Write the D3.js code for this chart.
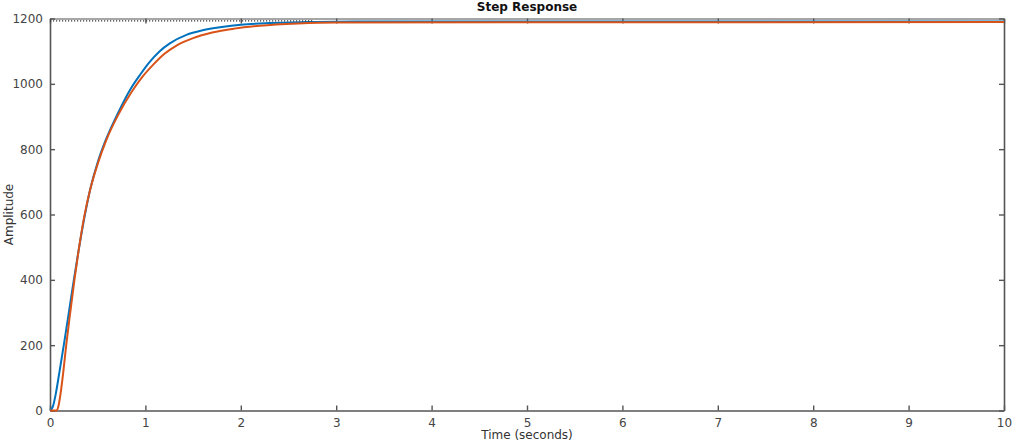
<!DOCTYPE html>
<html><head><meta charset="utf-8">
<script src="https://cdn.jsdelivr.net/npm/d3@7"></script>
<style>html,body{margin:0;padding:0;background:#fff;}svg{display:block;}</style>
</head><body>
<svg id="chart" width="1014" height="442"></svg>
<script>
const title = "Step Response";
const xLabel = "Time (seconds)";
const yLabel = "Amplitude";
const xTicks = [0,1,2,3,4,5,6,7,8,9,10];
const yTicks = [0,200,400,600,800,1000,1200];

const blueT = [0,0.03,0.06,0.1,0.15,0.2,0.25,0.3,0.36,0.42,0.5,0.59,0.715,0.84,0.95,1.03,1.15,1.256,1.43,1.6,1.8,2.0,2.3,2.7,3.2,10];
const blueV = [0,12,50,120,210,305,400,490,590,675,760,832,912,982,1030,1062,1100,1124,1150,1164,1174,1181,1186,1189,1191,1191];

const orangeT = [0,0.07,0.09,0.11,0.14,0.17,0.21,0.256,0.3,0.36,0.42,0.5,0.59,0.715,0.855,0.97,1.08,1.2,1.33,1.5,1.7,1.93,2.2,2.6,3.0,10];
const orangeV = [0,0,15,50,120,200,295,400,490,595,675,755,828,905,975,1022,1058,1092,1118,1140,1157,1169,1178,1185,1188,1189];

const refT = [0,2.75];
const refV = [1193,1193];

const svg = d3.select("#chart");
const m = {l:50, r:10, t:18.5, b:31.5};
const W = 1014, H = 442;
const x = d3.scaleLinear().domain([0,10]).range([m.l, W-m.r]);
const y = d3.scaleLinear().domain([0,1200]).range([H-m.b, m.t]);

const axisColor = "#555";
const font = "DejaVu Sans, sans-serif";

const gB = svg.append("g").attr("transform",`translate(0,${H-m.b})`)
  .call(d3.axisBottom(x).tickValues(xTicks).tickFormat(d3.format("d")).tickSizeInner(-5).tickSizeOuter(0).tickPadding(8));
const gT = svg.append("g").attr("transform",`translate(0,${m.t})`)
  .call(d3.axisTop(x).tickValues(xTicks).tickFormat("").tickSizeInner(-5).tickSizeOuter(0));
const gL = svg.append("g").attr("transform",`translate(${m.l},0)`)
  .call(d3.axisLeft(y).tickValues(yTicks).tickFormat(d3.format("d")).tickSizeInner(-5).tickSizeOuter(0).tickPadding(7));
const gR = svg.append("g").attr("transform",`translate(${W-m.r},0)`)
  .call(d3.axisRight(y).tickValues(yTicks).tickFormat("").tickSizeInner(-5).tickSizeOuter(0));
[gB,gT,gL,gR].forEach(g=>{
  g.selectAll(".domain").attr("stroke",axisColor).attr("stroke-width",1.6);
  g.selectAll(".tick line").attr("stroke",axisColor).attr("stroke-width",1.4);
  g.selectAll("text").attr("fill","#444").style("font-family",font).style("font-size","12px");
});
gT.select(".domain").attr("stroke","#888");

const line = d3.line().x(d=>x(d[0])).y(d=>y(d[1])).curve(d3.curveMonotoneX);
const blue = blueT.map((t,i)=>[t,blueV[i]]);
const orange = orangeT.map((t,i)=>[t,orangeV[i]]);
const ref = refT.map((t,i)=>[t,refV[i]]);

svg.append("path").datum(blue).attr("d",line).attr("fill","none").attr("stroke","#0072BD").attr("stroke-width",2);
svg.append("path").datum(orange).attr("d",line).attr("fill","none").attr("stroke","#D95319").attr("stroke-width",2);
svg.append("path").datum(ref).attr("d",d3.line().x(d=>x(d[0])).y(d=>y(d[1])))
  .attr("fill","none").attr("stroke","#333").attr("stroke-width",1.2).attr("stroke-dasharray","1.2,1.8");

svg.append("text").attr("x",(m.l+W-m.r)/2).attr("y",11).attr("text-anchor","middle")
  .style("font-family",font).style("font-size","12px").style("font-weight","bold").attr("fill","#111").text(title);
svg.append("text").attr("x",(m.l+W-m.r)/2).attr("y",439).attr("text-anchor","middle")
  .style("font-family",font).style("font-size","12px").attr("fill","#333").text(xLabel);
svg.append("text").attr("transform",`translate(13,${(m.t+H-m.b)/2}) rotate(-90)`).attr("text-anchor","middle")
  .style("font-family",font).style("font-size","12px").attr("fill","#333").text(yLabel);
</script>
</body></html>
